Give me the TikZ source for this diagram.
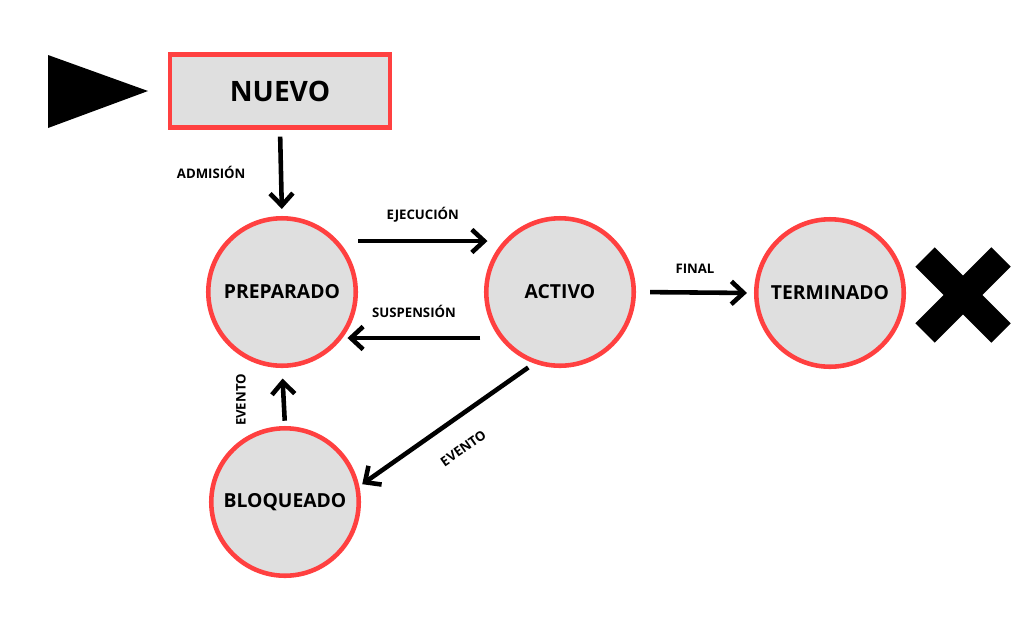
\documentclass[tikz,border=0pt]{standalone}
\usepackage{fontspec}
\setmainfont{Open Sans}
\usetikzlibrary{positioning, arrows.meta}

\begin{document}
\begin{tikzpicture}[x=0.02cm, y=-0.02cm, font=\bfseries]
        \tikzset{estado/.style={circle, draw=red!75!white, line width=2.6pt, fill=gray!25, minimum size=2.95cm, inner sep=0pt, font=\bfseries\fontsize{11}{13}\selectfont},
                 flecha/.style={-{Straight Barb[length=7pt,width=13pt]}, line width=2.6pt},
                 etiqueta/.style={font=\bfseries\fontsize{7.5}{9}\selectfont}}
        \useasboundingbox (0,0) rectangle (1024,620);

        \node[draw=red!75!white, line width=2.6pt, fill=gray!25, minimum width=4.4cm, minimum height=1.45cm, font=\bfseries\fontsize{16}{18}\selectfont] (nuevo) at (280,91) {NUEVO};
        \node[estado] (prep) at (282,292) {PREPARADO};
        \node[estado] (act) at (560,292) {ACTIVO};
        \node[estado] (term) at (830,293) {TERMINADO};
        \node[estado] (bloq) at (285,502) {BLOQUEADO};

        \fill (48,55) -- (148,91) -- (48,128) -- cycle;
        \draw[line width=0.55cm] (925,257) -- (1001,333) (1001,257) -- (925,333);

        \draw[flecha, shorten <=4pt, shorten >=4pt] (nuevo.south) -- node[etiqueta, left=0.55cm] {ADMISIÓN} (prep.north);
        \draw[flecha] ([yshift=1.02cm]prep.east) -- node[etiqueta, above=6pt] {EJECUCIÓN} ([xshift=2pt,yshift=1.02cm]act.west);
        \draw[flecha] ([xshift=-2pt,yshift=-0.92cm]act.west) -- node[etiqueta, above=7pt] {SUSPENSIÓN} ([xshift=-6pt,yshift=-0.92cm]prep.east);
        \draw[flecha, shorten <=8pt, shorten >=4pt] (act.east) -- node[etiqueta, above=6pt] {FINAL} (term.west);
        \draw[flecha, shorten <=3pt, shorten >=6pt] (bloq.north) -- (prep.south);
        \node[etiqueta, rotate=90] (evento1) at (241,400) {EVENTO};
        \draw[flecha, shorten <=4pt, shorten >=2pt] (act.250) -- node[etiqueta, sloped, below=9pt] {EVENTO} (bloq.12);
\end{tikzpicture}
\end{document}
